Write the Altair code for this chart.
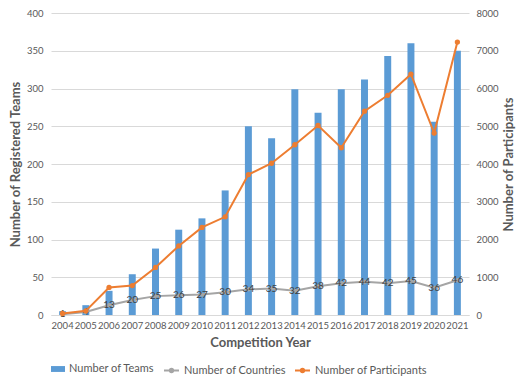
import altair as alt
import pandas as pd

years = [str(y) for y in range(2004, 2022)]
teams = [5, 13, 32, 54, 88, 113, 128, 165, 250, 234, 299, 268, 299, 312, 343, 360, 256, 350]
countries = [1, 4, 13, 20, 25, 26, 27, 30, 34, 35, 32, 38, 42, 44, 42, 45, 36, 46]
participants = [40, 110, 730, 780, 1260, 1830, 2320, 2600, 3720, 4020, 4510, 5020,
                4430, 5400, 5820, 6380, 4820, 7230]
series = ["Number of Teams", "Number of Countries", "Number of Participants"]
left_ticks = list(range(0, 401, 50))
right_ticks = list(range(0, 8001, 1000))

df = pd.DataFrame({
    "year": years, "teams": teams, "countries": countries, "participants": participants,
    "s1": series[0], "s2": series[1], "s3": series[2],
})

FONT = "Lato"
TXT = "#595959"
BLUE = "#5B9BD5"
GRAYL = "#A5A5A5"
ORANGE = "#ED7D31"
GRID = "#D9D9D9"

LINE_SYM = "M-1,0H1M0.22,0A0.22,0.22,0,1,1,-0.22,0A0.22,0.22,0,1,1,0.22,0"
BAR_SYM = "M-1,-0.42H1V0.42H-1Z"

x = alt.X("year:O", title="Competition Year",
          scale=alt.Scale(paddingInner=0.7, paddingOuter=0.35),
          axis=alt.Axis(labelAngle=0, ticks=False, domainColor=GRID, labelPadding=5,
                        titlePadding=7, labelOverlap=False))

base = alt.Chart(df)

bars = base.mark_bar().encode(
    x=x,
    y=alt.Y("teams:Q", title="Number of Registered Teams",
            scale=alt.Scale(domain=[0, 400], nice=False),
            axis=alt.Axis(values=left_ticks, orient="left", domain=False, ticks=False,
                          gridColor=GRID, titlePadding=4, labelPadding=8)),
    color=alt.Color("s1:N", scale=alt.Scale(range=[BLUE]),
                    legend=alt.Legend(orient="bottom", title=None, symbolType=BAR_SYM,
                                      symbolSize=196, symbolStrokeWidth=0)),
)

cline = base.mark_line(strokeWidth=2, point=alt.OverlayMarkDef(size=20, filled=True)).encode(
    x=x,
    y=alt.Y("countries:Q", scale=alt.Scale(domain=[0, 400], nice=False), axis=None),
    color=alt.Color("s2:N", scale=alt.Scale(range=[GRAYL]),
                    legend=alt.Legend(orient="bottom", title=None, symbolType=LINE_SYM,
                                      symbolSize=225, symbolStrokeWidth=2,
                                      symbolFillColor=GRAYL)),
)

ctext = base.mark_text(font=FONT, fontSize=10, color="#404040", baseline="middle").encode(
    x=x,
    y=alt.Y("countries:Q", scale=alt.Scale(domain=[0, 400], nice=False), axis=None),
    text="countries:Q",
)

pline = base.mark_line(strokeWidth=2, point=alt.OverlayMarkDef(size=28, filled=True)).encode(
    x=x,
    y=alt.Y("participants:Q", title="Number of Participants",
            scale=alt.Scale(domain=[0, 8000], nice=False),
            axis=alt.Axis(values=right_ticks, orient="right", domain=False, ticks=False,
                          grid=False, format="d", titleAngle=270, titleAlign="center",
                          titleBaseline="top", titlePadding=4, labelPadding=7)),
    color=alt.Color("s3:N", scale=alt.Scale(range=[ORANGE]),
                    legend=alt.Legend(orient="bottom", title=None, symbolType=LINE_SYM,
                                      symbolSize=225, symbolStrokeWidth=2,
                                      symbolFillColor=ORANGE)),
)

chart = alt.layer(bars, cline, ctext, pline).resolve_scale(
    y="independent", color="independent"
).properties(
    width=418, height=302,
    autosize=alt.AutoSizeParams(type="none"),
    padding={"left": 43, "top": 5, "right": 52, "bottom": 61},
    background="white",
).configure_view(stroke=None).configure_axis(
    labelFont=FONT, labelFontSize=9.5, labelColor=TXT,
    titleFont=FONT, titleFontSize=13, titleColor=TXT, titleFontWeight="bold",
).configure_legend(
    labelFont=FONT, labelFontSize=11, labelColor=TXT, offset=12, columnPadding=20,
)

chart.save("out.html", embed_options={"renderer": "svg", "actions": False})
